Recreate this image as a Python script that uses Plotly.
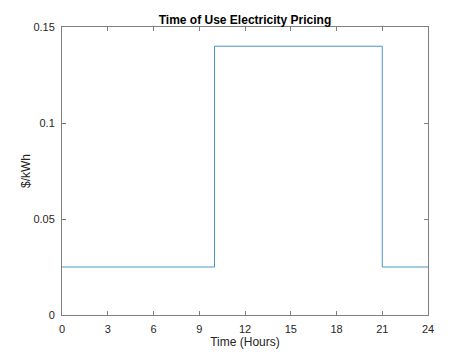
import plotly.graph_objects as go

hours = [0, 10, 21, 24]
price = [0.025, 0.14, 0.025, 0.025]
x_ticks = [0, 3, 6, 9, 12, 15, 18, 21, 24]
y_ticks = [0, 0.05, 0.1, 0.15]
y_tick_labels = ["0", "0.05", "0.1", "0.15"]

FONT = "Liberation Sans, Arial"

fig = go.Figure()
fig.add_trace(go.Scatter(x=hours, y=price, mode="lines", line_shape="hv",
                         line=dict(color="#4a96c8", width=1), showlegend=False))

axis_common = dict(showline=True, linecolor="#808080", linewidth=1, mirror="allticks",
                   ticks="inside", ticklen=4, tickcolor="#808080", showgrid=False,
                   zeroline=False, automargin=False,
                   tickfont=dict(family=FONT, size=11, color="#262626"))

fig.update_layout(
    width=474, height=355,
    margin=dict(l=62, r=46, t=27, b=40, autoexpand=False),
    paper_bgcolor="white", plot_bgcolor="white",
    title=dict(text="<b>Time of Use Electricity Pricing</b>", x=0.5, xanchor="center",
               xref="paper", y=1, yref="paper", yanchor="bottom", pad=dict(b=3),
               font=dict(family=FONT, size=12, color="black")),
    xaxis=dict(range=[0, 24], tickvals=x_ticks, ticklabelstandoff=4,
               title=dict(text="Time (Hours)", standoff=3,
                          font=dict(family=FONT, size=12, color="#262626")),
               **axis_common),
    yaxis=dict(range=[0, 0.15], tickvals=y_ticks, ticktext=y_tick_labels, ticklabelstandoff=4,
               title=dict(text="$/kWh", standoff=0,
                          font=dict(family=FONT, size=12, color="#262626")),
               **axis_common),
)

fig.write_html("out.html", config={"displayModeBar": False},
               post_script="document.body.style.margin='0';document.body.style.overflow='hidden';")
